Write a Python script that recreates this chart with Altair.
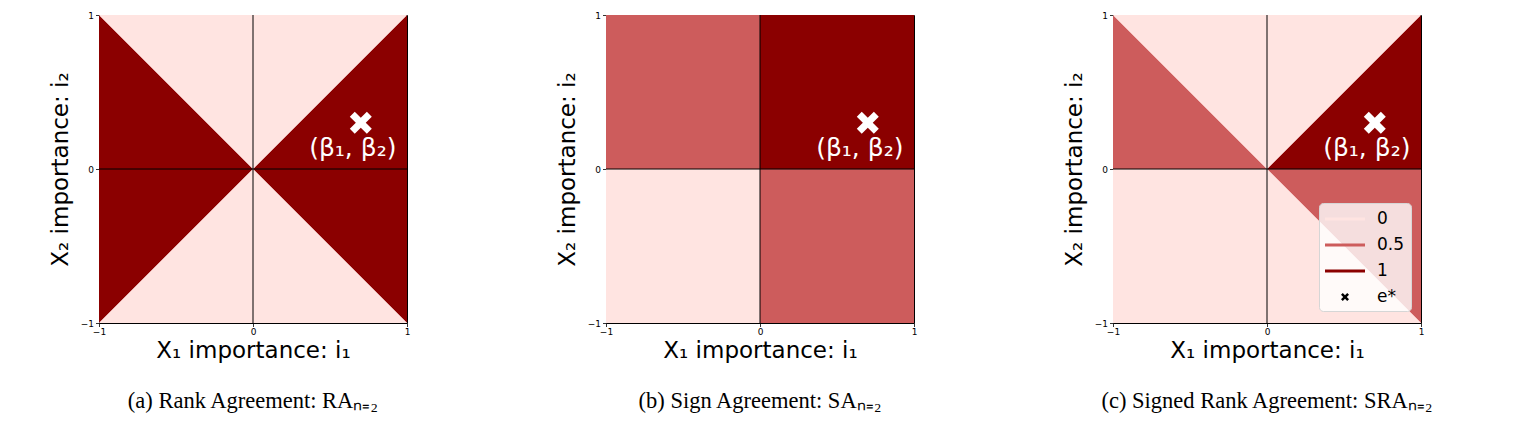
import altair as alt
import pandas as pd

# ---------------- data ----------------
LEVELS = ["0", "0.5", "1"]
LEVEL_COLORS = ["#FFE4E1", "#CD5C5C", "#8B0000"]
MARKER_LABEL = "e*"
MARKER_COLOR = "#000000"
E_STAR_X = [0.70]
E_STAR_Y = [0.30]
E_STAR_TEXT = ["(β₁, β₂)"]
TICK_VALUES = [-1, 0, 1]
TICK_LABELS = ["−1", "0", "1"]

# regions: (level, xs, lower ys, upper ys)
RA_REGIONS = [
    ("1", [-1, 0, 1], [-1, 0, -1], [1, 0, 1]),
    ("0", [-1, 0, 1], [1, 0, 1], [1, 1, 1]),
    ("0", [-1, 0, 1], [-1, -1, -1], [-1, 0, -1]),
]
SA_REGIONS = [
    ("1", [0, 1], [0, 0], [1, 1]),
    ("0.5", [-1, 0], [0, 0], [1, 1]),
    ("0", [-1, 0], [-1, -1], [0, 0]),
    ("0.5", [0, 1], [-1, -1], [0, 0]),
]
SRA_REGIONS = [
    ("1", [0, 1], [0, 0], [0, 1]),
    ("0.5", [-1, 0], [0, 0], [1, 0]),
    ("0.5", [0, 1], [0, -1], [0, 0]),
    ("0", [-1, 0, 1], [1, 0, 1], [1, 1, 1]),
    ("0", [-1, 0, 1], [-1, -1, -1], [0, 0, -1]),
]
CAPTIONS = [
    "(a) Rank Agreement: RAₙ₌₂",
    "(b) Sign Agreement: SAₙ₌₂",
    "(c) Signed Rank Agreement: SRAₙ₌₂",
]
X_TITLE = "X₁ importance: i₁"
Y_TITLE = "X₂ importance: i₂"


def x_path(a, s, cx=0.0):
    pts = [(-a, -a + s), (-a + s, -a), (0, -s), (a - s, -a), (a, -a + s), (s, 0),
           (a, a - s), (a - s, a), (0, s), (-a + s, a), (-a, a - s), (-s, 0)]
    return "M" + "L".join(f"{px + cx:.3f},{py:.3f}" for px, py in pts) + "Z"


X_BIG = x_path(1.0, 0.45)
X_SMALL = x_path(0.4, 0.18, cx=1.0)
BAR = "M-1,-0.15L3,-0.15L3,0.15L-1,0.15Z"


def regions_df(regions):
    rows = []
    for i, (lvl, xs, lo, hi) in enumerate(regions):
        for x, a, b in zip(xs, lo, hi):
            rows.append({"r": i, "level": lvl, "x": x, "ylo": a, "yhi": b})
    return pd.DataFrame(rows)


label_expr = " : ".join(
    f"datum.value == {v} ? '{t}'" for v, t in zip(TICK_VALUES[:-1], TICK_LABELS[:-1])
) + f" : '{TICK_LABELS[-1]}'"

common_axis = dict(
    values=TICK_VALUES, labelExpr=label_expr, grid=False, domain=False,
    tickSize=3.5, tickColor="black", tickWidth=0.8,
    labelFont="DejaVu Sans", labelFontSize=9, labelColor="black",
    labelFlush=False, labelOverlap=False,
    titleFont="DejaVu Sans", titleFontSize=23, titleFontWeight="normal",
    titleColor="black",
)
x_axis = alt.Axis(title=X_TITLE, labelPadding=1, titlePadding=3, **common_axis)
y_axis = alt.Axis(title=Y_TITLE, labelPadding=2, titlePadding=8, **common_axis)

scale_xy = alt.Scale(domain=[-1, 1], nice=False, zero=False)
color_scale = alt.Scale(domain=LEVELS + [MARKER_LABEL], range=LEVEL_COLORS + [MARKER_COLOR])
shape_scale = alt.Scale(domain=LEVELS + [MARKER_LABEL], range=[BAR, BAR, BAR, X_SMALL])

legend_def = alt.Legend(
    title=None, orient="none", legendX=206, legendY=188,
    symbolSize=400, symbolStrokeWidth=0, symbolOpacity=1,
    labelFont="DejaVu Sans", labelFontSize=17, labelColor="black",
    labelOffset=32, rowPadding=8, padding=6,
    fillColor="rgba(255,255,255,0.8)", strokeColor="#d6d6d6", cornerRadius=4,
)

SIZE = 308


def panel(regions, caption, with_legend):
    df = regions_df(regions)
    leg = legend_def if with_legend else None
    areas = alt.Chart(df).mark_area(interpolate="linear", strokeWidth=0, opacity=1).encode(
        x=alt.X("x:Q", scale=scale_xy, axis=x_axis),
        y=alt.Y("ylo:Q", scale=scale_xy, axis=y_axis, stack=None),
        y2="yhi:Q",
        color=alt.Color("level:N", scale=color_scale, legend=leg),
        detail="r:N",
    )
    zero_df = pd.DataFrame({"v": [0]})
    vline = alt.Chart(zero_df).mark_rule(color="black", strokeWidth=1).encode(x="v:Q")
    hline = alt.Chart(zero_df).mark_rule(color="black", strokeWidth=1).encode(y="v:Q")

    pt_df = pd.DataFrame({"x": E_STAR_X, "y": E_STAR_Y, "lab": [MARKER_LABEL], "txt": E_STAR_TEXT})
    marker = alt.Chart(pt_df).mark_point(
        shape=X_BIG, filled=True, color="white", size=484, opacity=1, strokeWidth=0
    ).encode(x="x:Q", y="y:Q")
    text = alt.Chart(pt_df).mark_text(
        color="white", font="DejaVu Sans", fontSize=25, dx=-8, dy=25,
        align="center", baseline="middle",
    ).encode(x="x:Q", y="y:Q", text="txt:N")

    layers = []
    if with_legend:
        # legend carrier drawn first (hidden under the filled regions)
        dummy = alt.Chart(pt_df).mark_point(filled=True, opacity=1, size=400, strokeWidth=0).encode(
            x="x:Q", y="y:Q",
            color=alt.Color("lab:N", scale=color_scale, legend=legend_def),
            shape=alt.Shape("lab:N", scale=shape_scale, legend=legend_def),
        )
        layers.append(dummy)
    layers += [areas, vline, hline, marker, text]
    return alt.layer(*layers).properties(
        width=SIZE, height=SIZE,
        title=alt.Title(caption, orient="bottom", frame="group", anchor="middle",
                        font="Liberation Serif", fontSize=22.5, fontWeight="normal",
                        color="black", offset=27),
    )


chart = alt.hconcat(
    panel(RA_REGIONS, CAPTIONS[0], False),
    panel(SA_REGIONS, CAPTIONS[1], False),
    panel(SRA_REGIONS, CAPTIONS[2], True),
    spacing=144,
).resolve_scale(color="independent", shape="independent").properties(
    padding={"left": 40, "top": 2, "right": 5, "bottom": 5}
).configure_view(stroke="black", strokeWidth=1, fill=LEVEL_COLORS[0])

chart.save("out.html", embed_options={"renderer": "svg", "actions": False})
